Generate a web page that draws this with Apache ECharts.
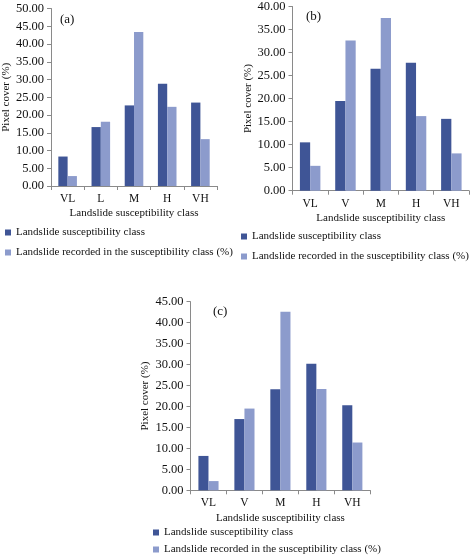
<!DOCTYPE html>
<html>
<head>
<meta charset="utf-8">
<script src="https://cdn.jsdelivr.net/npm/echarts@6/dist/echarts.min.js"></script>
<style>
  html, body { margin: 0; padding: 0; background: #fff; }
  #chart { width: 474px; height: 557px; }
</style>
</head>
<body>
<div id="chart"></div>
<script>
const catsA = ['VL', 'L', 'M', 'H', 'VH'];
const catsBC = ['VL', 'V', 'M', 'H', 'VH'];
const susA = [8.3, 16.6, 22.7, 28.8, 23.5];
const recA = [2.8, 18.1, 43.4, 22.3, 13.2];
const susB = [10.5, 19.5, 26.5, 27.8, 15.6];
const recB = [5.4, 32.6, 37.5, 16.2, 8.1];
const susC = [8.2, 17.0, 24.1, 30.2, 20.3];
const recC = [2.2, 19.5, 42.6, 24.2, 11.4];
const yMax = [50, 40, 45];
const panelLabels = ['(a)', '(b)', '(c)'];

const nameSus = 'Landslide susceptibility class';
const nameRec = 'Landslide recorded in the susceptibility class (%)';
const DARK = '#3f5596';
const LIGHT = '#8c9bcc';
const FONT = "'Liberation Serif', 'Times New Roman', serif";
const AXIS_COLOR = '#8a8a8a';

// one grid per panel: (a) top-left, (b) top-right, (c) bottom-centre
const grids = [
  { left: 50, right: 257, top: 8.5, bottom: 371 },
  { left: 292.5, right: 5, top: 5, bottom: 366.3 },
  { left: 190.5, right: 103.7, top: 301.7, bottom: 66.7 },
];
const yNameGaps = [29, 36, 40];
const catGaps = ['44%', '42%', '44%'];

const xAxes = [catsA, catsBC, catsBC].map((cats, i) => ({
  type: 'category',
  gridIndex: i,
  data: cats,
  name: 'Landslide susceptibility class',
  nameLocation: 'middle',
  nameGap: 22,
  nameTextStyle: { fontFamily: FONT, fontSize: 11, color: '#111' },
  axisLine: { lineStyle: { color: AXIS_COLOR } },
  axisTick: { show: true, length: 4, lineStyle: { color: AXIS_COLOR } },
  axisLabel: { fontFamily: FONT, fontSize: 11.5, color: '#111', margin: 7 },
}));

const yAxes = yMax.map((max, i) => ({
  type: 'value',
  gridIndex: i,
  min: 0,
  max: max,
  interval: 5,
  name: 'Pixel cover (%)',
  nameLocation: 'middle',
  nameGap: yNameGaps[i],
  nameTextStyle: { fontFamily: FONT, fontSize: 11, color: '#111' },
  splitLine: { show: false },
  axisLine: { show: true, lineStyle: { color: AXIS_COLOR } },
  axisTick: { show: true, length: 4, lineStyle: { color: AXIS_COLOR } },
  axisLabel: {
    fontFamily: FONT,
    fontSize: 12.5,
    color: '#111',
    margin: 7,
    formatter: (v) => v.toFixed(2),
  },
}));

const pairs = [[susA, recA], [susB, recB], [susC, recC]];
const series = [];
pairs.forEach(([sus, rec], i) => {
  series.push({
    name: nameSus,
    type: 'bar',
    xAxisIndex: i,
    yAxisIndex: i,
    data: sus,
    barGap: '0%',
    barCategoryGap: catGaps[i],
    itemStyle: { color: DARK },
  });
  series.push({
    name: nameRec,
    type: 'bar',
    xAxisIndex: i,
    yAxisIndex: i,
    data: rec,
    barGap: '0%',
    barCategoryGap: catGaps[i],
    itemStyle: { color: LIGHT },
  });
});

// one legend per row so nothing wraps into a second column
const legendRows = [
  { left: 5, y: 233, name: nameSus },
  { left: 5, y: 253, name: nameRec },
  { left: 241, y: 237, name: nameSus },
  { left: 241, y: 257, name: nameRec },
  { left: 153, y: 533, name: nameSus },
  { left: 153, y: 550, name: nameRec },
];
const legends = legendRows.map((r) => ({
  data: [r.name],
  orient: 'horizontal',
  left: r.left,
  top: r.y - 6,
  padding: 0,
  itemWidth: 6,
  itemHeight: 6,
  icon: 'rect',
  selectedMode: false,
  textStyle: { fontFamily: FONT, fontSize: 11, color: '#111' },
}));

const labelPos = [[60, 21], [306, 18], [213, 313]];
const graphics = labelPos.map(([x, y], i) => ({
  type: 'text',
  left: x,
  top: y - 8,
  style: { text: panelLabels[i], font: '13px ' + FONT, fill: '#111' },
}));

const chart = echarts.init(document.getElementById('chart'));
chart.setOption({
  animation: false,
  backgroundColor: '#fff',
  grid: grids,
  xAxis: xAxes,
  yAxis: yAxes,
  legend: legends,
  series: series,
  graphic: graphics,
});
</script>
</body>
</html>
